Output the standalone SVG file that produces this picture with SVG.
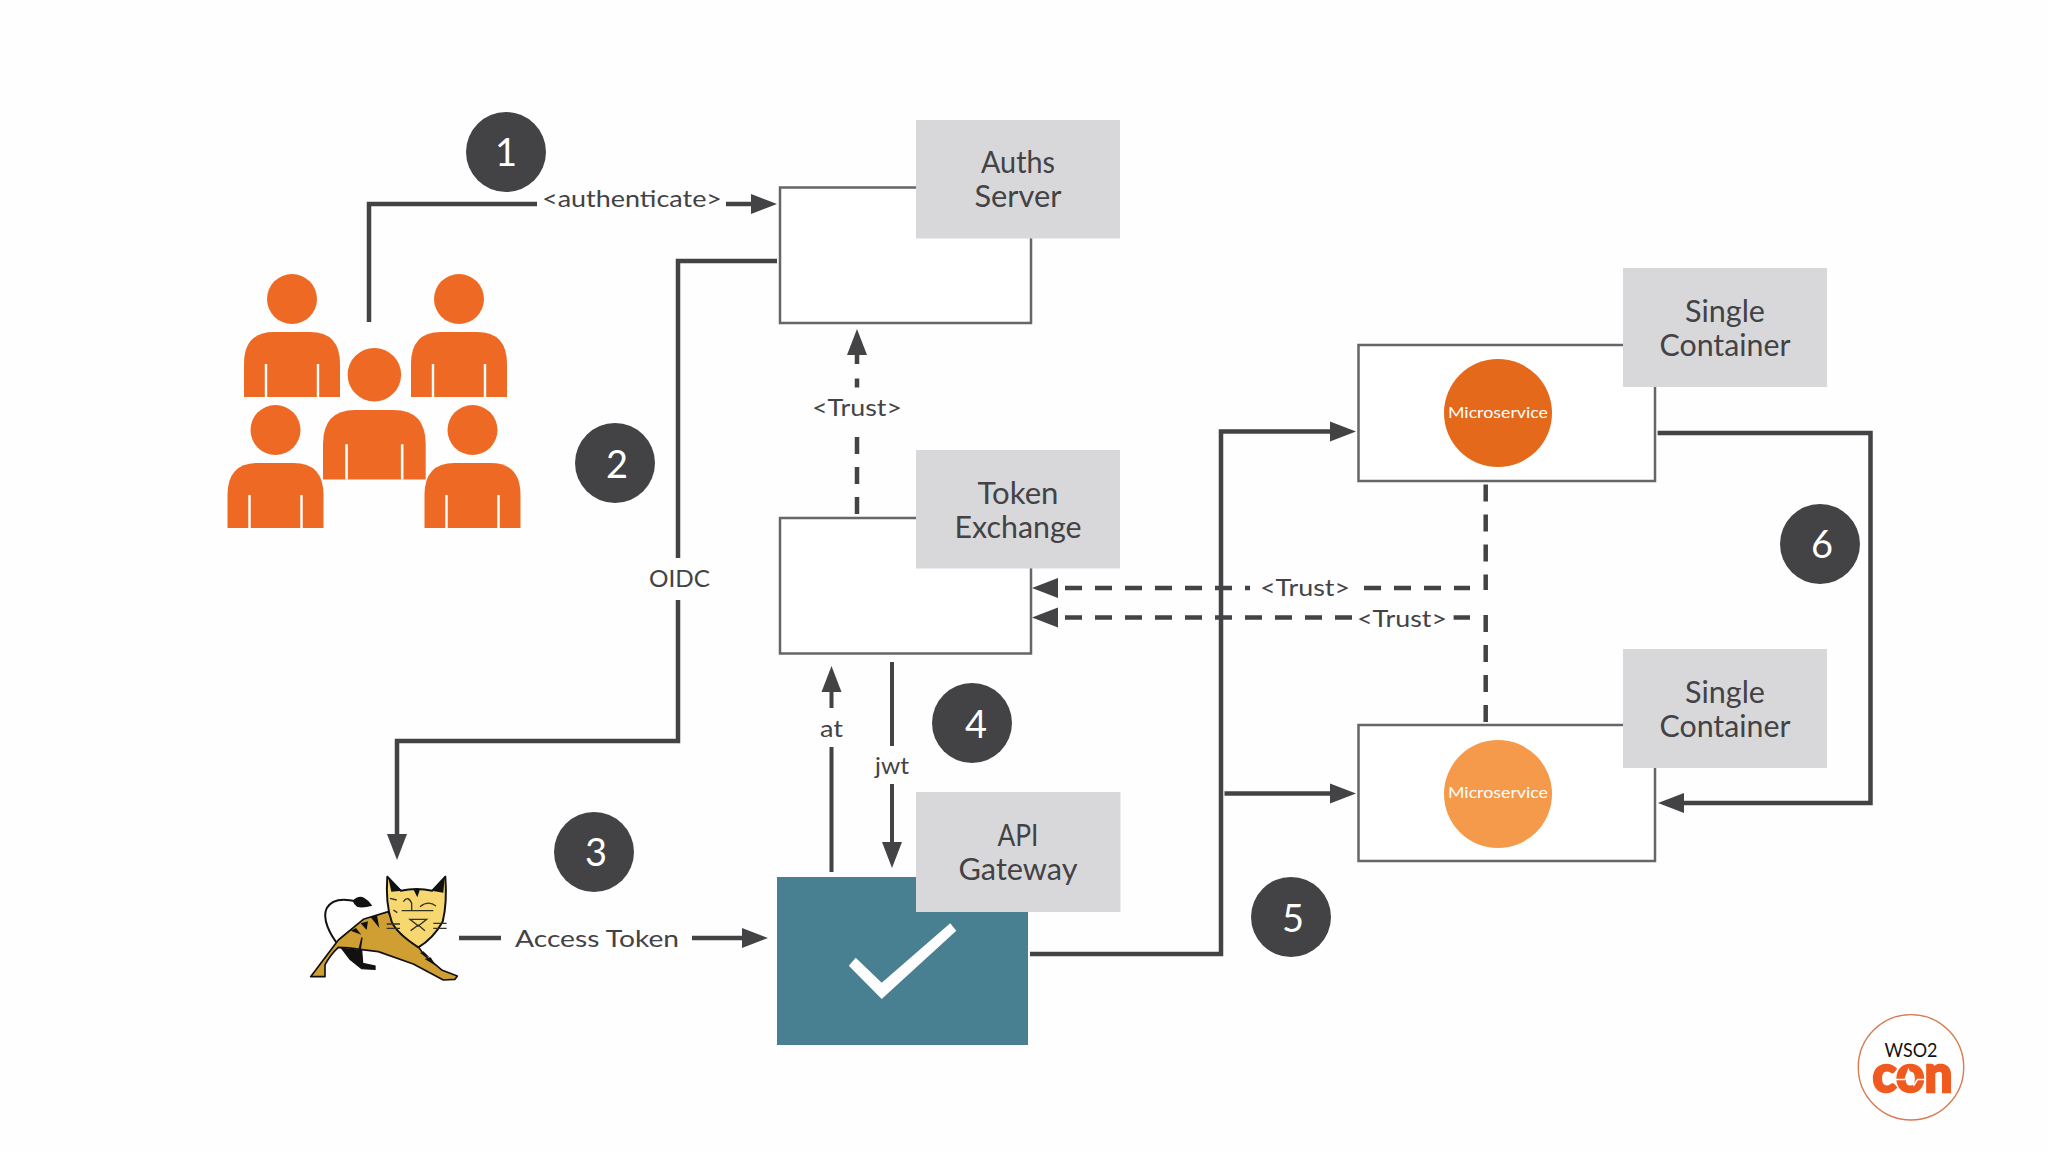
<svg xmlns="http://www.w3.org/2000/svg" xmlns:xlink="http://www.w3.org/1999/xlink" width="2048" height="1152" viewBox="0 0 2048 1152">
<style>
text{font-family:"Lato","Noto Sans",sans-serif;fill:#434245;text-anchor:middle}
.box{fill:#fff;stroke:#666568;stroke-width:2.5}
.tag{fill:#d8d8da}
.t{font-size:30px}
.l{font-size:24px}
.num{fill:#434245}
.n{font-size:38px;fill:#fff}
.ms{font-size:16px;fill:#fff}
.c{fill:none;stroke:#434245;stroke-width:4.5}
.d{fill:none;stroke:#434245;stroke-width:4.5;stroke-dasharray:17 13}
.a{marker-end:url(#head)}
.p{fill:#ee6a24}
.s{stroke:#fff;stroke-width:2.4}
</style>
<defs>
<marker id="head" markerUnits="userSpaceOnUse" markerWidth="28" markerHeight="22" refX="0" refY="10" orient="auto" viewBox="0 0 28 20" overflow="visible"><path d="M0,0L26,10L0,20Z" fill="#434245"/></marker>
<g id="person"><circle cx="48" cy="-33" r="25" class="p"/><path class="p" d="M0,65V32Q0,0 30,0H66Q96,0 96,32V65Z"/><path class="s" d="M22,32V65M74,32V65"/></g>
</defs>
<rect width="2048" height="1152" fill="#fefefe"/>
<g id="connectors">
<path class="c" d="M369,322V204H537"/><path class="c a" d="M726,204H751"/>
<path class="c" d="M777,261H678V558"/><path class="c a" d="M678,600V741H397V834"/>
<path class="d" d="M857,514V437"/><path class="c a" d="M857,387.5V378.5M857,364V355"/>
<path class="c" d="M501,938H459"/><path class="c a" d="M692,938H742"/>
<path class="c" style="stroke-width:4" d="M831.5,872V747"/><path class="c a" style="stroke-width:4" d="M831.5,708V692"/>
<path class="c" style="stroke-width:4" d="M892,662V746"/><path class="c a" style="stroke-width:4" d="M892,784V842"/>
<path class="c a" d="M1030,954H1221V431.4H1330"/><path class="c a" d="M1224.5,793.5H1330"/>
<path class="c a" d="M1657.6,433H1870.5V803H1684"/>
<path class="d" d="M1485.7,484.5V590"/><path class="d" d="M1485.7,615V722"/>
<path class="d" d="M1065,588H1250"/><path class="d" d="M1065,617.5H1352"/>
<path class="d" d="M1364,588H1470"/><path class="c" d="M1453.6,617.5H1470"/>
<path fill="#434245" d="M1058,578V598L1032,588ZM1058,607.5V627.5L1032,617.5Z"/>
<text class="l" x="632" y="207" textLength="180" lengthAdjust="spacingAndGlyphs">&lt;authenticate&gt;</text>
<text class="l" x="679.5" y="587" textLength="61" lengthAdjust="spacingAndGlyphs">OIDC</text>
<text class="l" x="857" y="416" textLength="90" lengthAdjust="spacingAndGlyphs">&lt;Trust&gt;</text>
<text class="l" x="1305" y="596" textLength="90" lengthAdjust="spacingAndGlyphs">&lt;Trust&gt;</text>
<text class="l" x="1402" y="627" textLength="90" lengthAdjust="spacingAndGlyphs">&lt;Trust&gt;</text>
<text class="l" x="597" y="947" textLength="164" lengthAdjust="spacingAndGlyphs">Access Token</text>
<text class="l" x="831.5" y="737" textLength="23" lengthAdjust="spacingAndGlyphs">at</text>
<text class="l" x="892" y="774" textLength="34" lengthAdjust="spacingAndGlyphs">jwt</text>
</g>
<g id="users">
<use xlink:href="#person" href="#person" transform="translate(244,332)"/>
<use xlink:href="#person" href="#person" transform="translate(411,332)"/>
<use xlink:href="#person" href="#person" transform="translate(323,410) scale(1.07)"/>
<use xlink:href="#person" href="#person" transform="translate(227.5,463)"/>
<use xlink:href="#person" href="#person" transform="translate(424.5,463)"/>
</g>
<g id="auths-server"><rect class="box" x="780" y="187.5" width="251" height="135.5"/><rect class="tag" x="916" y="120" width="204" height="118.5"/>
<text class="t" x="1018" y="173" textLength="74" lengthAdjust="spacingAndGlyphs">Auths</text><text class="t" x="1018" y="207" textLength="87" lengthAdjust="spacingAndGlyphs">Server</text></g>
<g id="token-exchange"><rect class="box" x="780" y="518" width="251" height="135.5"/><rect class="tag" x="916" y="450" width="204" height="118.5"/>
<text class="t" x="1018" y="504" textLength="81" lengthAdjust="spacingAndGlyphs">Token</text><text class="t" x="1018" y="538" textLength="127" lengthAdjust="spacingAndGlyphs">Exchange</text></g>
<g id="api-gateway"><rect x="777" y="877" width="251" height="168" fill="#487f91"/><rect class="tag" x="916" y="792" width="204.5" height="120"/>
<path fill="#fff" d="M848.8,965.7L855.7,957.7L881.7,982.7L950.2,923.3L956.3,930.7L881.7,999Z"/>
<text class="t" x="1018" y="846" textLength="41" lengthAdjust="spacingAndGlyphs">API</text><text class="t" x="1018" y="880" textLength="119" lengthAdjust="spacingAndGlyphs">Gateway</text></g>
<g id="container-1"><rect class="box" x="1358.5" y="345" width="296.5" height="136"/><rect class="tag" x="1623" y="268" width="204" height="119"/>
<circle cx="1498" cy="413" r="54" fill="#e5691a"/><text class="ms" x="1498" y="418" textLength="100" lengthAdjust="spacingAndGlyphs">Microservice</text>
<text class="t" x="1725" y="322" textLength="80" lengthAdjust="spacingAndGlyphs">Single</text><text class="t" x="1725" y="356" textLength="131" lengthAdjust="spacingAndGlyphs">Container</text></g>
<g id="container-2"><rect class="box" x="1358.5" y="725" width="296.5" height="136"/><rect class="tag" x="1623" y="649" width="204" height="119"/>
<circle cx="1498" cy="794" r="54" fill="#f59a4b"/><text class="ms" x="1498" y="798" textLength="100" lengthAdjust="spacingAndGlyphs">Microservice</text>
<text class="t" x="1725" y="703" textLength="80" lengthAdjust="spacingAndGlyphs">Single</text><text class="t" x="1725" y="737" textLength="131" lengthAdjust="spacingAndGlyphs">Container</text></g>
<g id="step-1"><circle class="num" cx="506" cy="152" r="40"/><text class="n" x="506" y="166">1</text></g>
<g id="step-2"><circle class="num" cx="615" cy="463" r="40"/><text class="n" x="617" y="478">2</text></g>
<g id="step-3"><circle class="num" cx="594" cy="852" r="40"/><text class="n" x="596" y="866">3</text></g>
<g id="step-4"><circle class="num" cx="972" cy="723" r="40"/><text class="n" x="976" y="738">4</text></g>
<g id="step-5"><circle class="num" cx="1291" cy="917" r="40"/><text class="n" x="1293" y="932">5</text></g>
<g id="step-6"><circle class="num" cx="1820" cy="544" r="40"/><text class="n" x="1822" y="558">6</text></g>
<g id="tomcat" transform="translate(280,840) scale(.3333)">
<path fill="none" stroke="#111" stroke-width="6" d="M178,318C150,285 125,235 140,205C155,178 190,175 228,184"/>
<path fill="#111" d="M218,182Q235,165 252,173Q268,182 277,197Q250,205 232,201Q222,195 218,182Z"/>
<path fill="#111" stroke="#111" stroke-width="4" d="M185,325L245,332L248,370L285,378L285,388L245,386L210,358Z"/>
<path fill="#cf9f33" stroke="#111" stroke-width="5" stroke-linejoin="round" d="M92,410L175,300L250,238L325,215L340,250L415,320L432,345L485,390L532,408L525,418L490,420L400,372L295,335L240,328Q205,322 175,322Q150,345 135,375L135,410Z"/>
<path fill="#111" d="M272,232L298,264L291,226ZM242,250L260,270L264,244ZM212,272L244,284L228,264ZM244,292L248,293L242,332L236,325ZM420,340L450,353L430,334ZM434,357L468,377L452,352Z"/>
<path fill="#f7d770" stroke="#111" stroke-width="6" stroke-linejoin="round" d="M322,110L362,152Q410,142 457,152L496,110Q502,190 488,245Q460,295 415,322Q350,280 335,245Q316,190 322,110Z"/>
<path fill="#111" d="M325,113L366,152L334,155ZM494,113L455,152L490,158ZM400,148L420,148L412,172Z"/>
<path fill="none" stroke="#332" stroke-width="4" d="M365,212H460M320,252H360M320,265H360M460,250H500M460,265H500M390,238H440L415,258ZM392,272L415,255L435,272M370,185Q385,165 395,190V210M420,200Q445,180 468,198M340,210L352,218M330,175L350,180"/>
</g>
<g id="wso2con">
<circle cx="1911" cy="1067.3" r="52.7" fill="#fff" stroke="#d97a50" stroke-width="1.4"/>
<text x="1911" y="1057" font-size="19" style="fill:#111;font-family:'Lato',sans-serif" textLength="53" lengthAdjust="spacingAndGlyphs">WSO2</text>
<text x="1912.5" y="1091.5" font-size="52" font-weight="900" style="fill:#f15a1f;stroke:#f15a1f;stroke-width:2.4;font-family:'Lato',sans-serif" textLength="80" lengthAdjust="spacingAndGlyphs">con</text>
<polyline fill="none" stroke="#fff" stroke-width="1.5" points="1896,1079.5 1905,1079.5 1908.5,1070 1914,1085 1917.5,1079.5 1925,1079.5"/>
</g>
</svg>
